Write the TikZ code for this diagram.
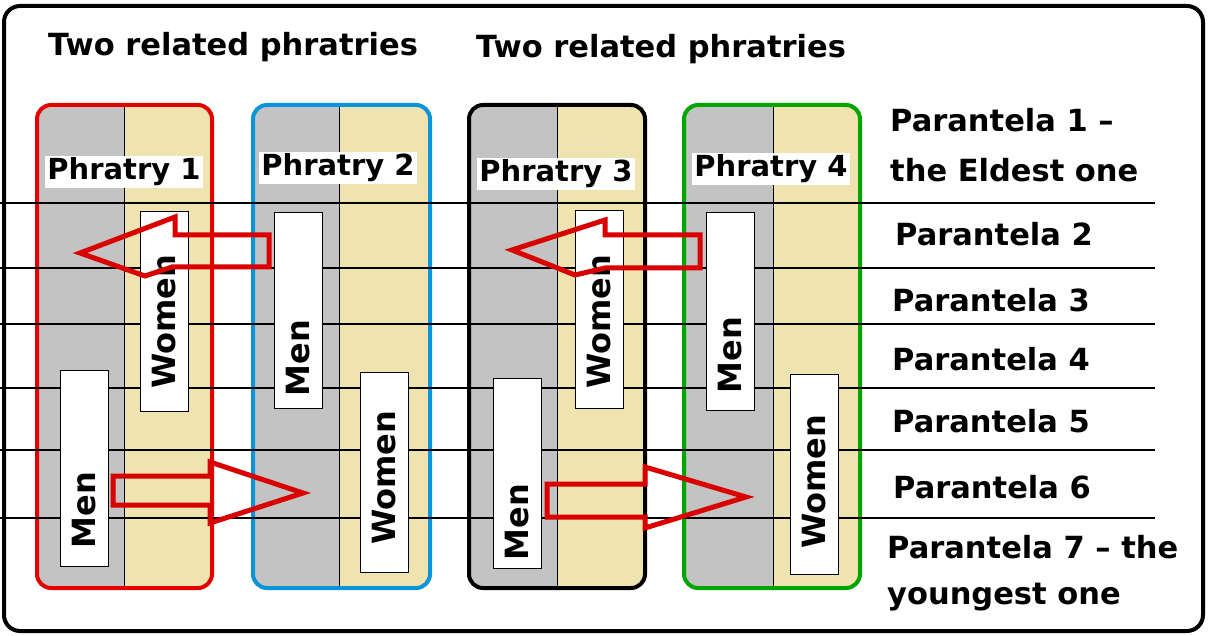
\documentclass[tikz,border=0pt]{standalone}
\usepackage{fontspec}
\setmainfont{DejaVu Sans}
\definecolor{beige}{HTML}{EFE3B0}
\definecolor{gry}{HTML}{C3C3C3}
\begin{document}
\begin{tikzpicture}[x=1pt,y=-1pt,
  txt/.style={font=\bfseries\fontsize{30.5}{34}\selectfont,inner sep=0pt,anchor=west},
  lab/.style={font=\bfseries\fontsize{29}{32}\selectfont,fill=white,inner sep=2pt},
  wbox/.style={draw=black,line width=0.8pt,fill=white},
  vt/.style={font=\bfseries\fontsize{32}{34}\selectfont,rotate=90,inner sep=0pt},
  hl/.style={line width=2pt,black},
  arr/.style={draw=red!85!black,line width=5pt,line join=miter}]
\useasboundingbox (0,0) rectangle (1208,636);
\fill[white] (0,0) rectangle (1208,636);
% columns
\foreach \a/\m/\b/\c [count=\i] in {37/124/212/red!90!black,253/339/430/cyan!80!blue,469/557/645/black,684/773/860/green!65!black}{
  \begin{scope}
  \clip[rounded corners=14pt] (\a,105) rectangle (\b,588);
  \fill[gry] (\a,105) rectangle (\m,588);
  \fill[beige] (\m,105) rectangle (\b,588);
  \draw[line width=1pt] (\m,105) -- (\m,588);
  \end{scope}
  \draw[\c,line width=4pt,rounded corners=14pt] (\a,105) rectangle (\b,588);
}
% horizontal lines
\foreach \y in {203,268,324,388,450,518}{\draw[hl] (0,\y) -- (1155,\y);}
% phratry labels
\node[lab] (p1) at (124,172) {Phratry 1};
\node[lab] (p2) at (338,168) {Phratry 2};
\node[lab] (p3) at (556,174) {Phratry 3};
\node[lab] (p4) at (771,169) {Phratry 4};
% white boxes
\draw[wbox] (140,211) rectangle (188,411); \node[vt] (w1) at (164,322) {Women};
\draw[wbox] (60,370) rectangle (108,566);  \node[vt] (m1) at (84,510) {Men};
\draw[wbox] (274,212) rectangle (322,408); \node[vt] (m2) at (298,358) {Men};
\draw[wbox] (360,372) rectangle (408,572); \node[vt] (w2) at (384,478) {Women};
\draw[wbox] (575,210) rectangle (623,408); \node[vt] (w3) at (599,322) {Women};
\draw[wbox] (493,378) rectangle (541,568); \node[vt] (m3) at (517,522) {Men};
\draw[wbox] (706,212) rectangle (754,410); \node[vt] (m4) at (730,355) {Men};
\draw[wbox] (790,374) rectangle (838,574); \node[vt] (w4) at (814,482) {Women};
% arrows
\draw[arr] (269,235) -- (175,235) -- (175,217) -- (80,253) -- (145,276) -- (172,267) -- (269,267) -- cycle;
\draw[arr] (113,476) -- (210,476) -- (210,462) -- (303,493) -- (210,523) -- (210,505) -- (113,505) -- cycle;
\draw[arr] (700,235) -- (605,235) -- (605,220) -- (512,250) -- (575,275) -- (605,268) -- (700,268) -- cycle;
\draw[arr] (547,484) -- (645,484) -- (645,467) -- (746,497) -- (645,528) -- (645,517) -- (547,517) -- cycle;
% headings
\node[txt] (h1) at (48,47) {Two related phratries};
\node[txt] (h2) at (476,49) {Two related phratries};
% right labels
\node[txt] (r1) at (890,120) {Parantela 1 –};
\node[txt] (r1b) at (890,170) {the Eldest one};
\node[txt] (r2) at (895,234) {Parantela 2};
\node[txt] (r3) at (892,300) {Parantela 3};
\node[txt] (r4) at (892,359) {Parantela 4};
\node[txt] (r5) at (892,421) {Parantela 5};
\node[txt] (r6) at (893,487) {Parantela 6};
\node[txt] (r7) at (887,547) {Parantela 7 – the};
\node[txt] (r7b) at (887,597) {youngest one};
% frame
\draw[line width=4pt,rounded corners=16pt] (4,6) rectangle (1203,631);
\end{tikzpicture}
\end{document}
